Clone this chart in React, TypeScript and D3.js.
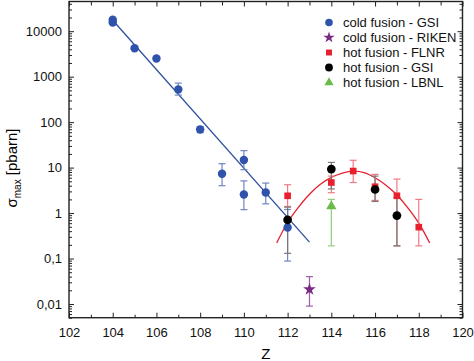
import React, { useEffect, useRef } from 'react';
import * as d3 from 'd3';

// [Z, sigma, lower, upper] in pbarn (null = no error bar)
const coldGSI: [number, number, number | null, number | null][] = [
  [104, 17800, null, null],
  [104, 15600, null, null],
  [105, 4200, null, null],
  [106, 2500, null, null],
  [107, 525, 393, 723],
  [108, 69, 59, 80],
  [109, 7.3, 4.0, 12.2],
  [110, 14.7, 9.0, 23.6],
  [110, 2.56, 1.19, 5.1],
  [111, 2.83, 1.6, 4.57],
  [112, 0.48, 0.088, 1.2],
];
const coldRIKEN: [number, number, number | null, number | null][] = [[113, 0.021, 0.009, 0.04]];
const hotFLNR: [number, number, number | null, number | null][] = [
  [112, 2.4, 1.4, 4.2],
  [114, 4.7, 2.8, 6.5],
  [115, 8.4, 4.7, 14.5],
  [116, 3.8, 1.9, 7.1],
  [117, 2.4, 0.19, 5.6],
  [118, 0.49, 0.19, 2.0],
];
const hotGSI: [number, number, number | null, number | null][] = [
  [112, 0.71, 0.13, 1.35],
  [114, 9.3, 3.4, 13],
  [116, 3.3, 1.8, 6.5],
  [117, 0.88, 0.19, 2.2],
];
const hotLBNL: [number, number, number | null, number | null][] = [[114, 1.42, 0.19, 2.0]];

// fitted lines
const coldFit: [number, number][] = [[104, 17400], [113, 0.23]];
const hotFit: [number, number][] = [
  [111.5, 0.22], [112, 0.62], [112.5, 1.35], [113, 2.6], [113.5, 4.3], [114, 6.1],
  [114.5, 7.6], [115, 8.4], [115.5, 7.8], [116, 6.0], [116.5, 4.1], [117, 2.5],
  [117.5, 1.3], [118, 0.6], [118.5, 0.22],
];

const xTicks = [102, 104, 106, 108, 110, 112, 114, 116, 118, 120];
const yTicks = [0.01, 0.1, 1, 10, 100, 1000, 10000];
const yTickLabels = ['0,01', '0,1', '1', '10', '100', '1000', '10000'];

const legendLabels = [
  'cold fusion - GSI',
  'cold fusion - RIKEN',
  'hot fusion - FLNR',
  'hot fusion - GSI',
  'hot fusion - LBNL',
];

const App = () => {
  const ref = useRef<SVGSVGElement>(null);

  useEffect(() => {
    const svg = d3.select(ref.current);
    svg.selectAll('*').remove();

    const left = 69, right = 462.5, top = 1.5, bottom = 317.7;
    const x = d3.scaleLinear().domain([102, 120]).range([left, right]);
    const y = d3.scaleLog().domain([0.005, 45000]).range([bottom, top]);

    const font = 'Arial, "Liberation Sans", sans-serif';
    const axisColor = '#222';

    // minor log ticks
    const minorY: number[] = [];
    [-3, -2, -1, 0, 1, 2, 3, 4].forEach((e) => {
      for (let k = 2; k <= 9; k++) {
        const v = k * Math.pow(10, e);
        if (v >= 0.005 && v <= 45000) minorY.push(v);
      }
    });
    const minorX = d3.range(103, 120, 2);

    const styleAxis = (g: any) => {
      g.select('.domain').remove();
      g.selectAll('line').attr('stroke', axisColor).attr('stroke-width', 1);
      g.selectAll('text').attr('font-family', font).attr('font-size', 13).attr('fill', '#111');
    };

    // bottom
    svg.append('g').attr('transform', `translate(0,${bottom})`)
      .call(d3.axisBottom(x).tickValues(xTicks).tickSize(-5).tickPadding(10).tickFormat((d) => `${d}`))
      .call(styleAxis);
    svg.append('g').attr('transform', `translate(0,${bottom})`)
      .call(d3.axisBottom(x).tickValues(minorX).tickSize(-3).tickFormat(() => ''))
      .call(styleAxis);
    // top
    svg.append('g').attr('transform', `translate(0,${top})`)
      .call(d3.axisTop(x).tickValues(xTicks).tickSize(-5).tickFormat(() => ''))
      .call(styleAxis);
    svg.append('g').attr('transform', `translate(0,${top})`)
      .call(d3.axisTop(x).tickValues(minorX).tickSize(-4).tickFormat(() => ''))
      .call(styleAxis);
    // left
    svg.append('g').attr('transform', `translate(${left},0)`)
      .call(d3.axisLeft(y).tickValues(yTicks).tickSize(-5).tickPadding(7)
        .tickFormat((d, i) => yTickLabels[i]))
      .call(styleAxis);
    svg.append('g').attr('transform', `translate(${left},0)`)
      .call(d3.axisLeft(y).tickValues(minorY).tickSize(-3).tickFormat(() => ''))
      .call(styleAxis);
    // right
    svg.append('g').attr('transform', `translate(${right},0)`)
      .call(d3.axisRight(y).tickValues(yTicks).tickSize(-5).tickFormat(() => ''))
      .call(styleAxis);
    svg.append('g').attr('transform', `translate(${right},0)`)
      .call(d3.axisRight(y).tickValues(minorY).tickSize(-3).tickFormat(() => ''))
      .call(styleAxis);

    svg.append('rect')
      .attr('x', left).attr('y', top)
      .attr('width', right - left).attr('height', bottom - top)
      .attr('fill', 'none').attr('stroke', axisColor).attr('stroke-width', 1.4);

    // fit lines
    const line = d3.line<[number, number]>().x((d) => x(d[0])).y((d) => y(d[1]));
    svg.append('path').datum(coldFit).attr('d', line)
      .attr('fill', 'none').attr('stroke', '#2d4f9e').attr('stroke-width', 1.3);
    svg.append('path').datum(hotFit).attr('d', line.curve(d3.curveCatmullRom))
      .attr('fill', 'none').attr('stroke', '#e3202f').attr('stroke-width', 1.3);

    const series = [
      { data: coldGSI, color: '#2f52ab', err: '#6d86c4', symbol: d3.symbolCircle, size: 56 },
      { data: coldRIKEN, color: '#7a2a84', err: '#9b5ea6', symbol: d3.symbolStar, size: 50 },
      { data: hotFLNR, color: '#e8202e', err: '#f07a84', symbol: d3.symbolSquare, size: 44 },
      { data: hotGSI, color: '#000000', err: '#777777', symbol: d3.symbolCircle, size: 60 },
      { data: hotLBNL, color: '#6cbb4a', err: '#94cc7c', symbol: d3.symbolTriangle, size: 46 },
    ];

    // error bars
    series.forEach((s) => {
      const g = svg.append('g');
      s.data.filter((d) => d[2] != null).forEach((d) => {
        const cx = x(d[0]);
        const y1 = y(d[2] as number), y2 = y(d[3] as number);
        g.append('line').attr('x1', cx).attr('x2', cx).attr('y1', y1).attr('y2', y2)
          .attr('stroke', s.err).attr('stroke-width', 1.2);
        [y1, y2].forEach((yy) => {
          g.append('line').attr('x1', cx - 3.5).attr('x2', cx + 3.5).attr('y1', yy).attr('y2', yy)
            .attr('stroke', s.err).attr('stroke-width', 1.2);
        });
      });
    });

    // markers
    series.forEach((s) => {
      svg.append('g').selectAll('path').data(s.data).enter().append('path')
        .attr('d', d3.symbol().type(s.symbol).size(s.size))
        .attr('transform', (d) => `translate(${x(d[0])},${y(d[1])})`)
        .attr('fill', s.color);
    });

    // legend
    const lg = svg.append('g');
    series.forEach((s, i) => {
      const ly = 22.5 + i * 15;
      lg.append('path').attr('d', d3.symbol().type(s.symbol).size(s.size * 0.8))
        .attr('transform', `translate(329,${ly})`).attr('fill', s.color);
      lg.append('text').attr('x', 343).attr('y', ly).attr('dy', '0.35em')
        .attr('font-family', font).attr('font-size', 13).attr('fill', '#111')
        .text(legendLabels[i]);
    });

    // axis titles
    svg.append('text').attr('x', (left + right) / 2).attr('y', 359)
      .attr('text-anchor', 'middle').attr('font-family', font).attr('font-size', 15)
      .text('Z');
    const yt = svg.append('text')
      .attr('transform', `translate(17,168) rotate(-90)`)
      .attr('text-anchor', 'middle').attr('font-family', font).attr('font-size', 15);
    yt.append('tspan').text('σ');
    yt.append('tspan').attr('font-size', 10).attr('dy', 4).text('max');
    yt.append('tspan').attr('dy', -4).text(' [pbarn]');
  }, []);

  return (
    <svg ref={ref} width={474} height={361}
      style={{ position: 'absolute', left: 0, top: 0, background: '#fff' }} />
  );
};

export default App;
